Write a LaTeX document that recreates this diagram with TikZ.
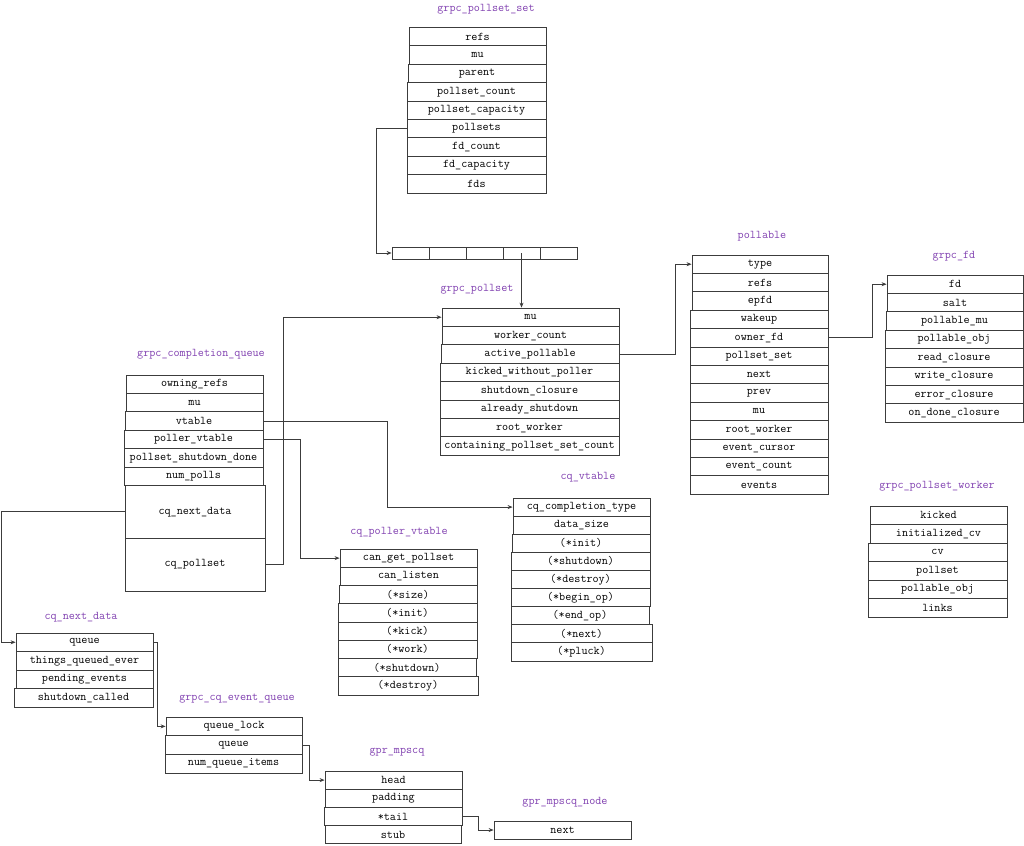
\documentclass[tikz,border=0pt]{standalone}
\usetikzlibrary{arrows.meta}
\definecolor{ttl}{RGB}{128,64,176}
\definecolor{ln}{RGB}{60,60,60}
\newcommand\mycell[6]{\node[cell, minimum width={(#3)-(#2)}, minimum height={(#5)-(#4)}] (#1) at ({((#2)+(#3))/2},{((#4)+(#5))/2}) {#6};}
% prefix, top, rowheight, list of x1/x2/text
\newcommand\mytable[4]{%
  \foreach \xa/\xb/\tx [count=\i] in {#4}{%
    \pgfmathsetmacro\ya{#2+(\i-1)*#3}%
    \pgfmathsetmacro\yb{#2+\i*#3}%
    \mycell{#1-\i}{\xa}{\xb}{\ya}{\yb}{\tx}%
  }}
\begin{document}
\begin{tikzpicture}[x=1pt,y=-1pt,
  cell/.style={draw=ln, line width=0.8pt, inner sep=0pt, font=\ttfamily\fontsize{11.8}{13}\selectfont, fill=white},
  ttlstyle/.style={text=ttl, inner sep=0pt, font=\ttfamily\fontsize{11.8}{13}\selectfont},
  conn/.style={draw=ln, line width=0.8pt, -{Stealth[length=5pt,width=4pt]}},
  plain/.style={draw=ln, line width=0.8pt}]
\useasboundingbox (0,0) rectangle (1024,845);

% titles
\node[ttlstyle] (t-pss) at (486,9) {grpc\_pollset\_set};
\node[ttlstyle] (t-ps) at (477,289) {grpc\_pollset};
\node[ttlstyle] (t-pl) at (762,236) {pollable};
\node[ttlstyle] (t-fd) at (954,256) {grpc\_fd};
\node[ttlstyle] (t-wk) at (937,486) {grpc\_pollset\_worker};
\node[ttlstyle] (t-cq) at (201,354) {grpc\_completion\_queue};
\node[ttlstyle] (t-cqv) at (588,477) {cq\_vtable};
\node[ttlstyle] (t-cqpv) at (399,532) {cq\_poller\_vtable};
\node[ttlstyle] (t-cnd) at (81,617) {cq\_next\_data};
\node[ttlstyle] (t-ceq) at (237,699) {grpc\_cq\_event\_queue};
\node[ttlstyle] (t-mq) at (397,752) {gpr\_mpscq};
\node[ttlstyle] (t-nd) at (565,802) {gpr\_mpscq\_node};

% grpc_pollset_set
\mytable{pss}{27.5}{18.4}{409/546/refs, 409/546/mu, 408/546/parent, 407/546/pollset\_count, 407/546/pollset\_capacity, 407/546/pollsets, 407/546/fd\_count, 407/546/fd\_capacity, 407/546/fds}

% array
\mycell{arr-1}{392}{429}{247}{259}{}
\mycell{arr-2}{429}{466}{247}{259}{}
\mycell{arr-3}{466}{503}{247}{259}{}
\mycell{arr-4}{503}{540}{247}{259}{}
\mycell{arr-5}{540}{577}{247}{259}{}

% grpc_pollset
\mytable{ps}{308}{18.4}{442/619/mu, 442/619/worker\_count, 441/619/active\_pollable, 440/619/kicked\_without\_poller, 440/619/shutdown\_closure, 440/619/already\_shutdown, 440/619/root\_worker, 440/619/containing\_pollset\_set\_count}

% pollable
\mytable{pl}{255}{18.4}{692/828/type, 692/828/refs, 692/828/epfd, 690/828/wakeup, 690/828/owner\_fd, 690/828/pollset\_set, 690/828/next, 690/828/prev, 690/828/mu, 690/828/root\_worker, 690/828/event\_cursor, 690/828/event\_count, 690/828/events}

% grpc_fd
\mytable{fd}{275}{18.4}{887/1023/fd, 887/1023/salt, 886/1023/pollable\_mu, 885/1023/pollable\_obj, 885/1023/read\_closure, 885/1023/write\_closure, 885/1023/error\_closure, 885/1023/on\_done\_closure}

% grpc_pollset_worker
\mytable{wk}{506}{18.5}{870/1007/kicked, 870/1007/initialized\_cv, 868/1007/cv, 868/1007/pollset, 868/1007/pollable\_obj, 868/1007/links}

% grpc_completion_queue
\mytable{cq}{375}{18.4}{126/263/owning\_refs, 126/263/mu, 125/263/vtable, 124/263/poller\_vtable, 124/263/pollset\_shutdown\_done, 124/263/num\_polls}
\mycell{cq-7}{125}{265}{485.4}{538}{cq\_next\_data}
\mycell{cq-8}{125}{265}{538}{591}{cq\_pollset}

% cq_vtable
\mytable{cqv}{498}{18.1}{513/650/cq\_completion\_type, 513/650/data\_size, 512/650/(*init), 511/650/(*shutdown), 511/650/(*destroy), 511/650/(*begin\_op), 511/649/(*end\_op), 511/652/(*next), 511/652/(*pluck)}

% cq_poller_vtable
\mytable{cqpv}{549}{18.25}{340/477/can\_get\_pollset, 340/477/can\_listen, 339/477/(*size), 338/477/(*init), 338/477/(*kick), 338/477/(*work), 338/476/(*shutdown), 338/478/(*destroy)}

% cq_next_data
\mytable{cnd}{633}{18.5}{16/153/queue, 16/153/things\_queued\_ever, 16/153/pending\_events, 14/153/shutdown\_called}

% grpc_cq_event_queue
\mytable{ceq}{717}{18.7}{166/302/queue\_lock, 165/302/queue, 165/302/num\_queue\_items}

% gpr_mpscq
\mytable{mq}{771}{18.2}{325/462/head, 325/462/padding, 324/462/*tail, 325/461/stub}

% gpr_mpscq_node
\mycell{nd}{494}{631}{821}{839}{next}

% connectors
\draw[conn] (pss-6.west) -- ++(-30,0) |- (arr-1.west);
\draw[conn] (arr-4.center) -- (arr-4.center |- ps-1.north);
\draw[conn] (cq-8.east) -- ++(18,0) |- (ps-1.west);
\draw[conn] (ps-3.east) -- ++(56,0) |- (pl-1.west);
\draw[conn] (pl-5.east) -- ++(44,0) |- (fd-1.west);
\draw[conn] (cq-3.east) -- ++(123.5,0) |- (cqv-1.west);
\draw[conn] (cq-4.east) -- ++(37,0) |- (cqpv-1.west);
\draw[conn] (cq-7.west) -- ++(-123,0) |- (cnd-1.west);
\draw[conn] (cnd-1.east) -- ++(4,0) |- (ceq-1.west);
\draw[conn] (ceq-2.east) -- ++(7,0) |- (mq-1.west);
\draw[conn] (mq-3.east) -- ++(16,0) |- (nd.west);
\end{tikzpicture}
\end{document}
